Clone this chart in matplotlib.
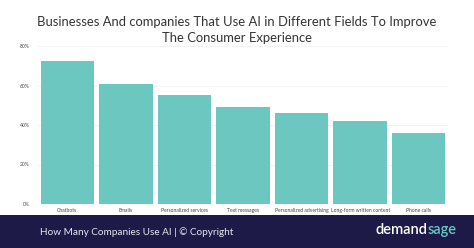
import matplotlib
matplotlib.use("Agg")
import matplotlib.pyplot as plt
from matplotlib.ticker import PercentFormatter

# data
categories = ["Chatbots", "Emails", "Personalized services", "Text messages",
              "Personalized advertising", "Long-form written content", "Phone calls"]
shares = [72.5, 61, 55, 49, 46, 42, 36]
y_ticks = [0, 20, 40, 60, 80]

BAR = "#6cc7c0"
NAVY = "#1d1a48"

plt.rcParams["font.family"] = ["Lato", "DejaVu Sans"]

fig = plt.figure(figsize=(4.74, 2.48), dpi=100)
fig.patch.set_facecolor("white")

# axes: x 38..448 px, y 46..204 px (from top)
ax = fig.add_axes([38 / 474, (248 - 204) / 248, 410 / 474, 158 / 248])
ax.bar(range(len(categories)), shares, width=0.91, color=BAR, zorder=2)
ax.set_xlim(-0.5, len(categories) - 0.5)
ax.set_ylim(0, 80)
ax.set_yticks(y_ticks)
ax.yaxis.set_major_formatter(PercentFormatter(decimals=0))
ax.set_xticks(range(len(categories)))
ax.set_xticklabels(categories)
ax.tick_params(axis="both", length=0, labelsize=3.6, colors="#444444")
ax.tick_params(axis="x", pad=3)
ax.tick_params(axis="y", pad=6)
ax.grid(axis="y", color="#f0f0f0", linewidth=0.6, zorder=0)
for s in ax.spines.values():
    s.set_visible(False)

title_kw = dict(ha="center", va="center", fontsize=9.4, color="#333333")
fig.text(0.5, 1 - 22 / 248, "Businesses And companies That Use AI in Different Fields To Improve", **title_kw)
fig.text(0.5, 1 - 38 / 248, "The Consumer Experience", **title_kw)

# footer band
footer = fig.add_axes([0, 0, 1, 33 / 248])
footer.set_facecolor(NAVY)
footer.set_xticks([])
footer.set_yticks([])
for s in footer.spines.values():
    s.set_visible(False)
footer.text(40 / 474, 0.47, "How Many Companies Use AI | \u00a9 Copyright",
            transform=footer.transAxes, ha="left", va="center",
            fontsize=7.2, color="#e6e6f0")
t = footer.text(376 / 474, 0.55, "demand", transform=footer.transAxes,
                ha="left", va="center", fontsize=10.5, color="white", weight="semibold")
fig.canvas.draw()
bb = t.get_window_extent()
footer.text(bb.x1 / 474, 0.55, "sage", transform=footer.transAxes,
            ha="left", va="center", fontsize=10.5, color="#6cc7c0", weight="semibold")

fig.savefig("out.png", dpi=100)
